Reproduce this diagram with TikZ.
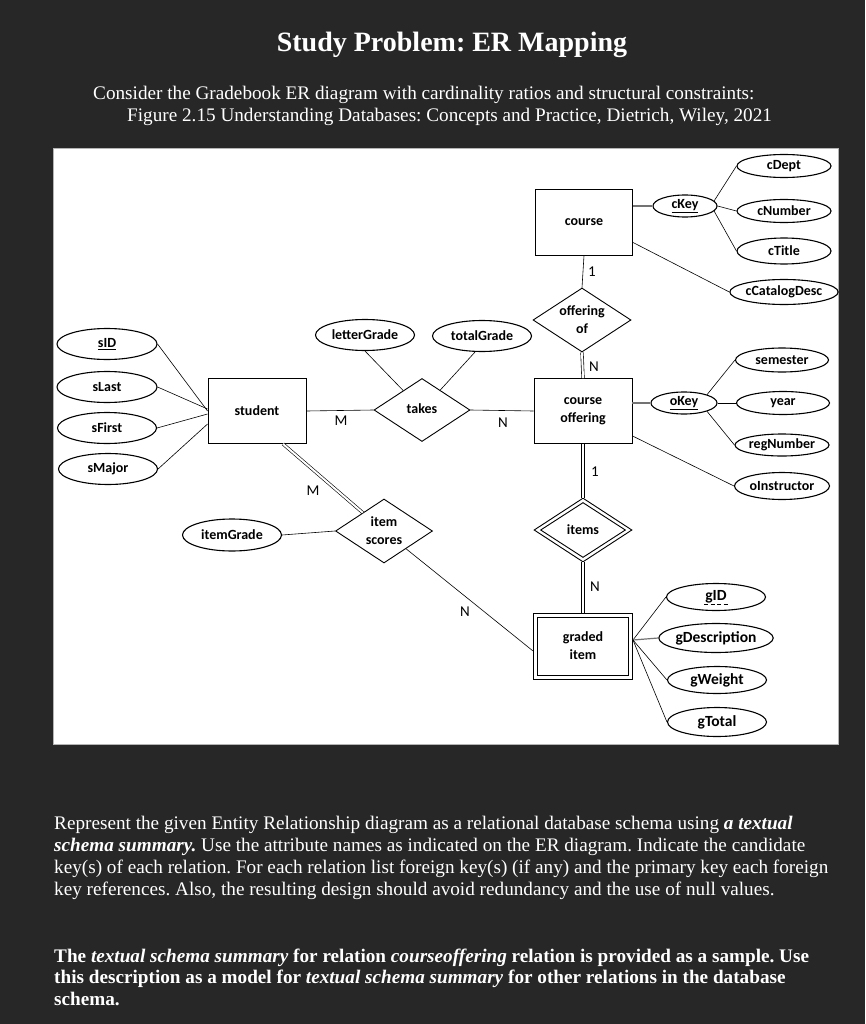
\documentclass[tikz,border=0pt]{standalone}
\usepackage{fontspec}
\setmainfont{Liberation Serif}
\newfontfamily\carl{Carlito}
\usetikzlibrary{shapes.geometric}
\definecolor{bgdark}{HTML}{272727}
\definecolor{panelborder}{HTML}{B4B4B4}
\frenchspacing
\begin{document}
\begin{tikzpicture}[x=1pt,y=-1pt,
  attr/.style={ellipse, draw, line width=1.1pt, inner sep=0pt, font=\carl\bfseries\fontsize{14}{16}\selectfont},
  gattr/.style={attr, font=\carl\bfseries\fontsize{15.5}{17}\selectfont},
  ent/.style={rectangle, draw, line width=0.9pt, inner sep=0pt, minimum width=98pt, minimum height=65pt, align=center, font=\carl\bfseries\fontsize{14}{18}\selectfont},
  rel/.style={diamond, draw, line width=0.9pt, inner sep=0pt},
  reltext/.style={align=center, inner sep=0pt, font=\carl\bfseries\fontsize{14}{18}\selectfont},
  lnk/.style={line width=0.6pt},
  hlnk/.style={line width=1.2pt, draw=black!55},
  dbl/.style={double, double distance=2pt, line width=0.6pt},
  card/.style={inner sep=0pt, font=\carl\fontsize{15}{17}\selectfont},
  wtext/.style={text=white, inner sep=0pt, anchor=base west, font=\fontsize{19.2}{22}\selectfont}
]
\useasboundingbox (0,0) rectangle (865,1024);
\fill[bgdark] (0,0) rectangle (865,1024);

% titles
\node[text=white, inner sep=0pt, anchor=base, font=\bfseries\fontsize{28}{32}\selectfont] (title) at (452,52) {Study Problem: ER Mapping};
\node[text=white, inner sep=0pt, anchor=base west, font=\fontsize{19.2}{22}\selectfont] (sub1) at (93,100) {Consider the Gradebook ER diagram with cardinality ratios and structural constraints:};
\node[text=white, inner sep=0pt, anchor=base west, font=\fontsize{19.2}{22}\selectfont] (sub2) at (127,122) {Figure 2.15 Understanding Databases: Concepts and Practice, Dietrich, Wiley, 2021};

% panel
\draw[fill=white, draw=panelborder, line width=1pt] (53,149) rectangle (838,744);

% entities
\node[ent] (student) at (257,411) {student};
\node[ent, minimum width=97pt, minimum height=66pt] (course) at (584,222) {course};
\node[ent] (co) at (583,411) {course\\offering};
\node[ent, minimum width=99pt, minimum height=66pt] (gi) at (583,646) {};
\node[ent, minimum width=91pt, minimum height=58pt] (giIn) at (583,646) {graded\\item};

% relationships
\node[rel, minimum width=96pt, minimum height=63pt] (takes) at (422,410) {};
\node[reltext] (takesT) at (422,409) {takes};
\node[rel, minimum width=98pt, minimum height=64pt] (off) at (582,320) {};
\node[reltext] (offT) at (582,320) {offering\\of};
\node[rel, minimum width=98pt, minimum height=64pt] (items) at (583,530) {};
\node[rel, minimum width=85pt, minimum height=55pt] (itemsIn) at (583,530) {};
\node[reltext] (itemsT) at (583,530) {items};
\node[rel, minimum width=97pt, minimum height=64pt] (isc) at (384,531) {};
\node[reltext] (iscT) at (384,531) {item\\scores};

% attributes
\node[attr, minimum width=100pt, minimum height=31pt] (sid) at (107,344) {\underline{sID}};
\node[attr, minimum width=100pt, minimum height=31pt] (slast) at (107,387) {sLast};
\node[attr, minimum width=99pt, minimum height=31pt] (sfirst) at (107,428) {sFirst};
\node[attr, minimum width=99pt, minimum height=31pt] (smajor) at (108,469) {sMajor};
\node[attr, minimum width=99pt, minimum height=31pt] (lg) at (365,335) {letterGrade};
\node[attr, minimum width=99pt, minimum height=31pt] (tg) at (482,336) {totalGrade};
\node[attr, minimum width=99pt, minimum height=32pt] (ig) at (232,535) {itemGrade};
\node[attr, minimum width=64pt, minimum height=22pt] (ck) at (685,206) {\underline{cKey}};
\node[attr, minimum width=94pt, minimum height=23pt] (cdept) at (784,166) {cDept};
\node[attr, minimum width=94pt, minimum height=23pt] (cnum) at (784,211) {cNumber};
\node[attr, minimum width=94pt, minimum height=26pt] (ctitle) at (784,251) {cTitle};
\node[attr, minimum width=97pt, minimum height=25pt] (ccat) at (784,292) {cCatalogDesc};
\node[attr, minimum width=66pt, minimum height=22pt] (ok) at (684,403) {\underline{oKey}};
\node[attr, minimum width=93pt, minimum height=24pt] (sem) at (782,360) {semester};
\node[attr, minimum width=93pt, minimum height=23pt] (year) at (783,403) {year};
\node[attr, minimum width=94pt, minimum height=22pt] (reg) at (782,445) {regNumber};
\node[attr, minimum width=95pt, minimum height=27pt] (oinst) at (782,486) {oInstructor};
\node[gattr, minimum width=99pt, minimum height=27pt] (gid) at (716,597) {gID};
\node[gattr, minimum width=99pt, minimum height=29pt] (gdesc) at (716,638) {gDescription};
\node[gattr, minimum width=99pt, minimum height=27pt] (gw) at (717,680) {gWeight};
\node[gattr, minimum width=99pt, minimum height=29pt] (gt) at (717,722) {gTotal};
\draw[line width=0.8pt, dash pattern=on 4pt off 2.5pt] ([xshift=-12pt,yshift=-7pt]gid.center) -- ([xshift=12pt,yshift=-7pt]gid.center);

% student attributes
\draw[lnk] (sid.east) -- (student.west);
\draw[lnk] (slast.east) -- ([yshift=2pt]student.west);
\draw[lnk] (sfirst.east) -- ([yshift=-3pt]student.west);
\draw[lnk] (smajor.east) -- ([yshift=-13pt]student.west);

% takes
\draw[lnk] (student.east) -- (takes.west);
\draw[lnk] (takes.east) -- (co.west);
\draw[lnk] (lg.south) -- (takes);
\draw[lnk] ([xshift=-7pt]tg.south) -- (takes);

% course side
\draw[hlnk] ([yshift=16pt]course.east) -- (ck.west);
\draw[lnk] (ck.10) -- (cdept.west);
\draw[lnk] (ck.east) -- (cnum.west);
\draw[lnk] (ck.-10) -- (ctitle.west);
\draw[lnk] ([yshift=13pt]course.south east) -- (ccat.west);
\draw[lnk] (course.south) -- (off.north);
\draw[dbl] (off.south) -- (co.north);

% course offering side
\draw[hlnk] ([yshift=8pt]co.east) -- (ok.west);
\draw[lnk] (ok.20) -- (sem.west);
\draw[lnk] (ok.east) -- (year.west);
\draw[lnk] (ok.-20) -- (reg.west);
\draw[lnk] ([yshift=8pt]co.south east) -- (oinst.west);
\draw[dbl] (co.south) -- (items.north);
\draw[dbl] (items.south) -- (gi.north);

% graded item attributes
\draw[lnk] ([yshift=6pt]gi.east) -- (gid.west);
\draw[hlnk] ([yshift=6pt]gi.east) -- (gdesc.west);
\draw[lnk] ([yshift=6pt]gi.east) -- (gw.west);
\draw[lnk] ([yshift=6pt]gi.east) -- (gt.west);

% item scores
\draw[dbl] ([xshift=26pt]student.south) -- (isc);
\draw[lnk] (ig.east) -- (isc.west);
\draw[lnk] (isc) -- ([yshift=-5pt]gi.west);

% cardinalities
\node[card] (c1) at (341,421) {M};
\node[card] (c2) at (503,423) {N};
\node[card] (c3) at (592,272) {1};
\node[card] (c4) at (594,367) {N};
\node[card] (c5) at (595,472) {1};
\node[card] (c6) at (595,587) {N};
\node[card] (c7) at (313,491) {M};
\node[card] (c8) at (465,612) {N};

% bottom text
\node[wtext] (p1) at (54,829) {Represent the given Entity Relationship diagram as a relational database schema using \textbf{\textit{a textual}}};
\node[wtext] (p2) at (54,851) {\textbf{\textit{schema summary.}} Use the attribute names as indicated on the ER diagram. Indicate the candidate};
\node[wtext] (p3) at (54,873) {key(s) of each relation. For each relation list foreign key(s) (if any) and the primary key each foreign};
\node[wtext] (p4) at (54,895) {key references. Also, the resulting design should avoid redundancy and the use of null values.};
\node[wtext, font=\bfseries\fontsize{19.2}{22}\selectfont] (q1) at (54,962) {The \textit{textual schema summary} for relation \textit{courseoffering} relation is provided as a sample. Use};
\node[wtext, font=\bfseries\fontsize{19.2}{22}\selectfont] (q2) at (54,983) {this description as a model for \textit{textual schema summary} for other relations in the database};
\node[wtext, font=\bfseries\fontsize{19.2}{22}\selectfont] (q3) at (54,1005) {schema.};
\end{tikzpicture}
\end{document}
